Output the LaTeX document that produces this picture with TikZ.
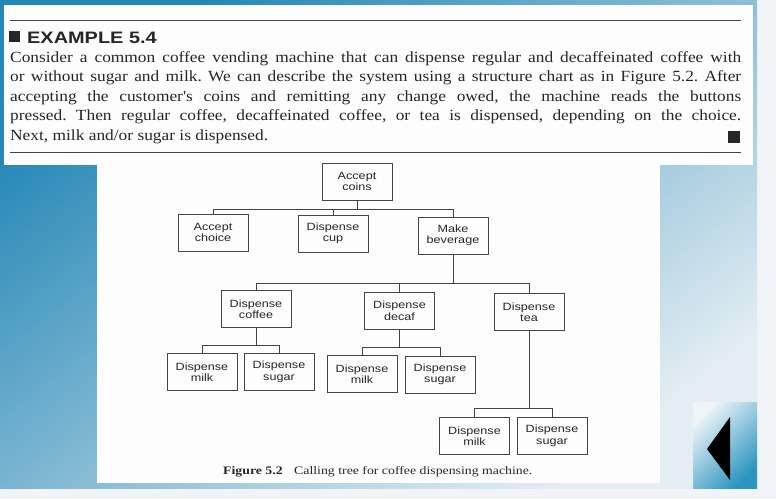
\documentclass[tikz,border=0pt]{standalone}
\usepackage{fontspec}
\setmainfont{Liberation Serif}
\newfontfamily\bodyfont[FakeStretch=1.12]{Liberation Serif}
\newfontfamily\headfont[FakeStretch=1.2]{Liberation Sans}
\newfontfamily\boxfont[FakeStretch=1.2]{Liberation Sans}
\newfontfamily\capfont[FakeStretch=1.2]{Liberation Serif}
\definecolor{canvas}{HTML}{F1F4F6}
\definecolor{bgdark}{HTML}{2487B6}
\definecolor{bglight}{HTML}{E3EDF2}
\definecolor{paper}{HTML}{FDFDFD}
\definecolor{ink}{HTML}{262626}
\definecolor{lineink}{HTML}{444444}
\definecolor{btnlight}{HTML}{EEF4F7}
\definecolor{btndark}{HTML}{2B95C0}
\tikzset{
  bodyline/.style={anchor=base west, inner sep=0pt, text=ink,
    font=\bodyfont\fontsize{15.5}{19.5}\selectfont\frenchspacing},
  fbox/.style={draw=lineink, line width=0.9pt, minimum width=70pt, minimum height=37pt,
    inner sep=0pt, align=center, text=ink, fill=paper,
    font=\boxfont\fontsize{10.5}{11.5}\selectfont},
  conn/.style={draw=lineink, line width=0.8pt},
  rulebar/.style={draw=lineink, line width=1pt}
}
\begin{document}
\begin{tikzpicture}[x=1pt,y=-1pt]
\useasboundingbox (0,0) rectangle (776,499);
% background
\fill[canvas] (0,0) rectangle (776,499);
\shade[top color=bgdark, bottom color=bglight, shading angle=37] (0,0) rectangle (757,488);
% white panels
\fill[paper] (4,5) rectangle (753,165);
\fill[paper] (97,165) rectangle (660,483);
% nav button
\shade[top color=btnlight, bottom color=btndark, shading angle=45] (693,402) rectangle (757,488);
\fill[black] (707,449) -- (730,417) -- (730,480) -- cycle;
% header
\draw[rulebar] (10,20) -- (741,20);
\fill[ink] (9,31) rectangle (20,42);
\node[anchor=base west, inner sep=0pt, text=ink, font=\headfont\bfseries\fontsize{16.6}{19}\selectfont] (head) at (27,43) {EXAMPLE 5.4};
\node[bodyline] (l1) at (10,62) {\makebox[731pt][s]{Consider a common coffee vending machine that can dispense regular and decaffeinated coffee with}};
\node[bodyline] (l2) at (10,81.5) {\makebox[731pt][s]{or without sugar and milk. We can describe the system using a structure chart as in Figure 5.2. After}};
\node[bodyline] (l3) at (10,101) {\makebox[731pt][s]{accepting the customer's coins and remitting any change owed, the machine reads the buttons}};
\node[bodyline] (l4) at (10,120.5) {\makebox[731pt][s]{pressed. Then regular coffee, decaffeinated coffee, or tea is dispensed, depending on the choice.}};
\node[bodyline] (l5) at (10,140) {Next, milk and/or sugar is dispensed.};
\fill[ink] (728,131) rectangle (740,143);
\draw[rulebar] (10,152) -- (741,152);
% tree
\node[fbox] (coins) at (357,181.5) {Accept\\coins};
\node[fbox] (choice) at (213,232.5) {Accept\\choice};
\node[fbox] (cup) at (333,233.5) {Dispense\\cup};
\node[fbox] (bev) at (453,235.5) {Make\\beverage};
\node[fbox] (coffee) at (256,309) {Dispense\\coffee};
\node[fbox] (decaf) at (399.5,310.5) {Dispense\\decaf};
\node[fbox] (tea) at (529,312) {Dispense\\tea};
\node[fbox] (milka) at (202,372) {Dispense\\milk};
\node[fbox] (sugara) at (279,372) {Dispense\\sugar};
\node[fbox] (milkb) at (362,374) {Dispense\\milk};
\node[fbox] (sugarb) at (440,374.5) {Dispense\\sugar};
\node[fbox] (milkc) at (474.5,436) {Dispense\\milk};
\node[fbox] (sugarc) at (552,436) {Dispense\\sugar};
\coordinate (busA) at (0,209);
\coordinate (busB) at (0,283);
\coordinate (busC) at (0,345);
\coordinate (busD) at (0,347);
\coordinate (busE) at (0,408);
\foreach \c in {choice,cup,bev}
  \draw[conn] (coins.south) |- (\c.north |- busA) -- (\c.north);
\foreach \c in {coffee,decaf,tea}
  \draw[conn] (bev.south) |- (\c.north |- busB) -- (\c.north);
\foreach \c in {milka,sugara}
  \draw[conn] (coffee.south) |- (\c.north |- busC) -- (\c.north);
\foreach \c in {milkb,sugarb}
  \draw[conn] (decaf.south) |- (\c.north |- busD) -- (\c.north);
\foreach \c in {milkc,sugarc}
  \draw[conn] (tea.south) |- (\c.north |- busE) -- (\c.north);
\node[anchor=base west, inner sep=0pt, text=ink, font=\capfont\fontsize{11.5}{13}\selectfont] (cap) at (223,474) {\textbf{Figure 5.2}\quad Calling tree for coffee dispensing machine.};
\end{tikzpicture}
\end{document}
